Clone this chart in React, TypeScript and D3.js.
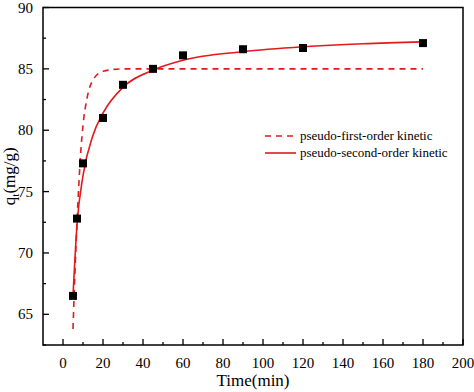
import React from "react";
import * as d3 from "d3";

// experimental points
const times = [5, 7, 10, 20, 30, 45, 60, 90, 120, 180];
const qt = [66.5, 72.8, 77.3, 81.0, 83.7, 85.0, 86.1, 86.6, 86.7, 87.1];

// fitted curves
const pfoT = [5, 6, 7, 8, 9, 10, 12, 15, 20, 30, 60, 120, 180];
const pfoQ = [63.8, 68.5, 72.5, 75.8, 78.5, 80.4, 82.6, 84.1, 84.8, 85.0, 85.0, 85.0, 85.0];
const psoT = [5, 7, 10, 15, 20, 30, 45, 60, 90, 120, 150, 180];
const psoQ = [66.5, 72.3, 76.3, 79.6, 81.4, 83.5, 84.9, 85.7, 86.4, 86.8, 87.05, 87.2];

const xTicks = d3.range(0, 201, 20);
const yTicks = [65, 70, 75, 80, 85, 90];

export default function App() {
  const width = 474;
  const height = 392;
  const left = 43, right = 463, top = 7.5, bottom = 345;
  const red = "#e3191c";
  const font = "'Liberation Serif', 'Times New Roman', serif";

  const x = d3.scaleLinear().domain([-10, 200]).range([left, right]);
  const y = d3.scaleLinear().domain([62.5, 90]).range([bottom, top]);

  const line = d3
    .line<[number, number]>()
    .x((d) => x(d[0]))
    .y((d) => y(d[1]))
    .curve(d3.curveMonotoneX);

  const pfo = line(pfoT.map((t, i) => [t, pfoQ[i]]));
  const pso = line(psoT.map((t, i) => [t, psoQ[i]]));

  const xMinor = d3.range(10, 200, 20);
  const yMinor = d3.range(62.5, 90, 5);

  return (
    <svg width={width} height={height} style={{ position: "absolute", left: 0, top: 0, background: "#fff" }} fontFamily={font}>
      <rect x={0} y={0} width={width} height={height} fill="#fff" />
      {/* curves */}
      <path d={pfo || ""} fill="none" stroke={red} strokeWidth={1.6} strokeDasharray="6,5" />
      <path d={pso || ""} fill="none" stroke={red} strokeWidth={1.6} />
      {/* points */}
      {times.map((t, i) => (
        <rect key={i} x={x(t) - 4} y={y(qt[i]) - 4} width={8} height={8} fill="#000" />
      ))}
      {/* frame */}
      <rect x={left} y={top} width={right - left} height={bottom - top} fill="none" stroke="#000" strokeWidth={1.5} />
      {/* x ticks */}
      {xTicks.map((t) => (
        <g key={t}>
          <line x1={x(t)} x2={x(t)} y1={bottom} y2={bottom - 6} stroke="#000" strokeWidth={1.3} />
          <text x={x(t)} y={368} textAnchor="middle" fontSize={15}>{t}</text>
        </g>
      ))}
      {xMinor.map((t) => (
        <line key={t} x1={x(t)} x2={x(t)} y1={bottom} y2={bottom - 3} stroke="#000" strokeWidth={1.3} />
      ))}
      {/* y ticks */}
      {yTicks.map((v) => (
        <g key={v}>
          <line x1={left} x2={left + 6} y1={y(v)} y2={y(v)} stroke="#000" strokeWidth={1.3} />
          <text x={33} y={y(v) + 5} textAnchor="end" fontSize={15}>{v}</text>
        </g>
      ))}
      {yMinor.map((v) => (
        <line key={v} x1={left} x2={left + 3} y1={y(v)} y2={y(v)} stroke="#000" strokeWidth={1.3} />
      ))}
      {/* axis titles */}
      <text x={253} y={386} textAnchor="middle" fontSize={17}>Time(min)</text>
      <text transform={`translate(15, ${(top + bottom) / 2}) rotate(-90)`} textAnchor="middle" fontSize={17}>
        q<tspan fontSize={11} dy={4}>t</tspan><tspan dy={-4}>(mg/g)</tspan>
      </text>
      {/* legend */}
      <line x1={265} x2={296} y1={136} y2={136} stroke={red} strokeWidth={1.6} strokeDasharray="6,5" />
      <text x={300} y={140} fontSize={13}>pseudo-first-order kinetic</text>
      <line x1={265} x2={296} y1={153} y2={153} stroke={red} strokeWidth={1.6} />
      <text x={300} y={157} fontSize={13}>pseudo-second-order kinetic</text>
    </svg>
  );
}
